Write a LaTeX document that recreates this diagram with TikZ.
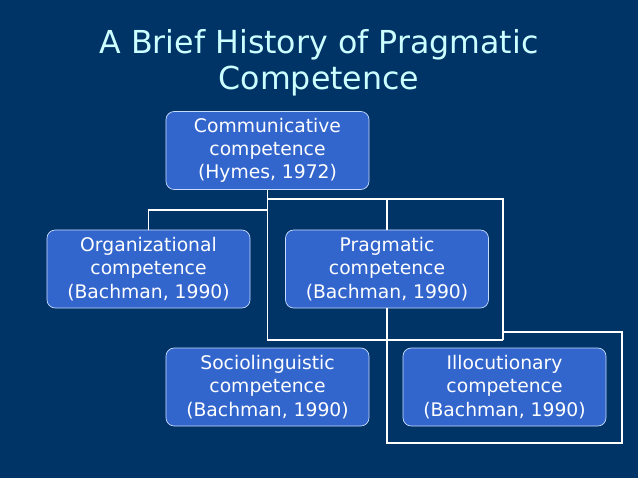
\documentclass[tikz,border=0pt]{standalone}
\usepackage{fontspec}
\setmainfont{DejaVu Sans}
\usepackage{xcolor}
\usetikzlibrary{positioning}

\definecolor{slidebg}{RGB}{0,51,102}
\definecolor{boxfill}{RGB}{51,102,204}
\definecolor{boxline}{RGB}{200,220,255}
\definecolor{titlecol}{RGB}{204,255,255}

\tikzset{
  compbox/.style={draw=boxline, line width=0.6pt, fill=boxfill, rounded corners=7pt,
    minimum width=6.09cm, minimum height=2.34cm, align=center, text=white,
    font=\fontsize{16}{19.8}\selectfont, inner sep=2pt},
  link/.style={draw=white, line width=1.6pt}
}

\begin{document}
\begin{tikzpicture}[x=0.03cm, y=-0.03cm]
    % Slide background
    \fill[slidebg] (0,0) rectangle (638,478);

    % Title
    \node[text=titlecol, align=center, font=\fontsize{27}{31}\selectfont] (title) at (319,63)
      {A Brief History of Pragmatic\\Competence};

    % Boxes
    \node[compbox] (commun) at (267.5,150.5) {Communicative\\competence\\(Hymes, 1972)};
    \node[compbox] (org) at (148.5,269) {Organizational\\competence\\(Bachman, 1990)};
    \node[compbox] (prag) at (387,269) {Pragmatic\\competence\\(Bachman, 1990)};
    \node[compbox] (socio) at (267.5,387) {Sociolinguistic\\competence\\(Bachman, 1990)};
    \node[compbox] (illoc) at (504.5,387) {Illocutionary\\competence\\(Bachman, 1990)};

    % Connector corners
    \coordinate (hubL) at (267.5,210);
    \coordinate (hubR) at (267.5,199);
    \coordinate (topR) at (503,199);
    \coordinate (midL) at (267.5,340);
    \coordinate (midR) at (503,340);
    \coordinate (stepR) at (503,332);
    \coordinate (farR) at (622,332);
    \coordinate (farB) at (622,443);

    % Connectors
    \draw[link] (commun.south) -- (midL) -- (midR);
    \draw[link] (org.north) |- (hubL);
    \draw[link] (hubR) -- (topR) -- (midR);
    \draw[link] (hubR -| prag.north) -- (prag.north);
    \draw[link] (prag.south) -- (prag.south |- farB) -- (farB) -- (farR) -- (stepR);
\end{tikzpicture}
\end{document}
